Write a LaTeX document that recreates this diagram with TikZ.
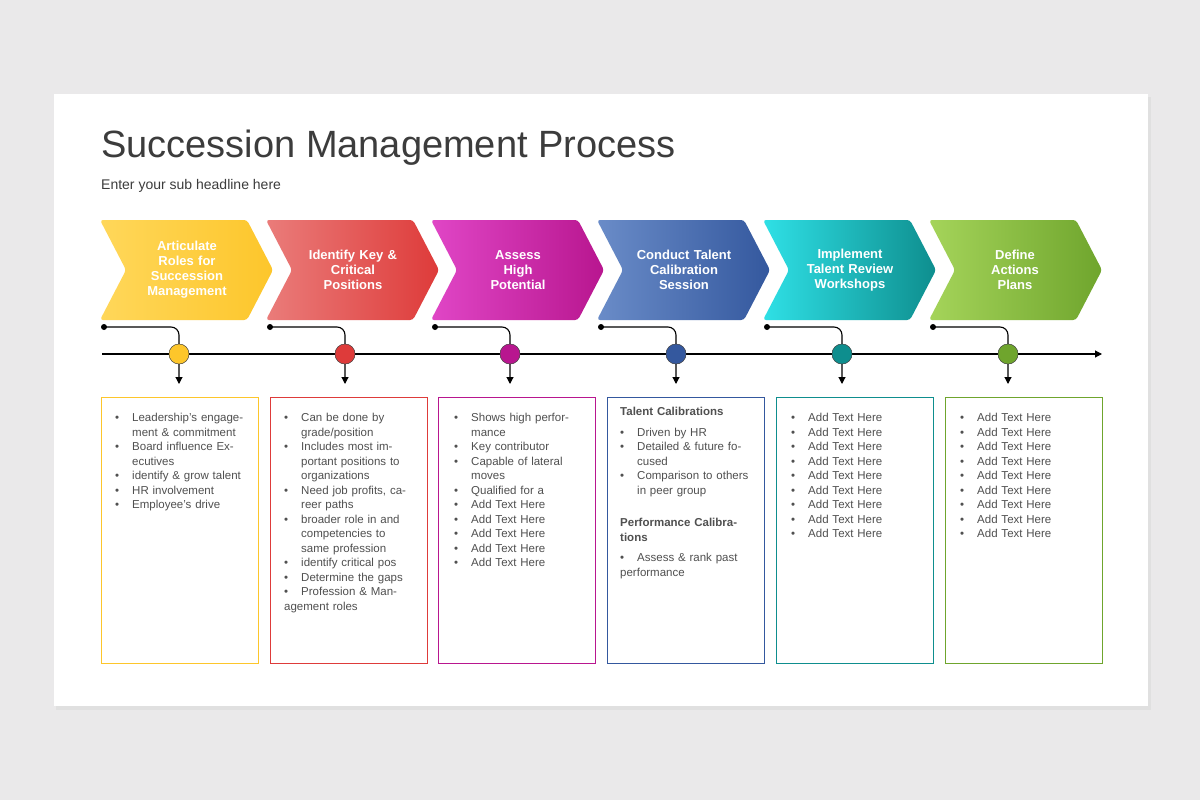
\documentclass[tikz,border=0pt]{standalone}
\usepackage{fontspec}
\setmainfont{Liberation Sans}
\usetikzlibrary{arrows.meta}
\definecolor{bgGray}{HTML}{EAE9EA}
\definecolor{titleGray}{HTML}{3C3C3C}
\definecolor{txtGray}{HTML}{505050}
\definecolor{cA}{HTML}{FDC62B}\definecolor{cAl}{HTML}{FFD75A}
\definecolor{cB}{HTML}{DE3B3A}\definecolor{cBl}{HTML}{EA7C7A}
\definecolor{cC}{HTML}{B8168F}\definecolor{cCl}{HTML}{E046C6}
\definecolor{cD}{HTML}{34589E}\definecolor{cDl}{HTML}{6A8CC8}
\definecolor{cE}{HTML}{0E8E8E}\definecolor{cEl}{HTML}{2FE0E6}
\definecolor{cF}{HTML}{6FA52D}\definecolor{cFl}{HTML}{A5D45A}
\newcommand{\itm}[1]{\par\noindent\hangindent=17pt\hangafter=1\makebox[17pt][l]{\textbullet}#1}
\begin{document}
\begin{tikzpicture}[x=1pt,y=-1pt]
% Define the styles
\tikzstyle{chevtext} = [text=white, font=\bfseries\fontsize{13}{15}\selectfont, align=center, text width=110pt]
\tikzstyle{dot} = [circle, draw=black!70, minimum size=20pt, inner sep=0pt]
\tikzstyle{link} = [line width=1.1pt, rounded corners=8pt, -{Triangle[length=7pt,width=7pt]}]
\tikzstyle{boxtext} = [anchor=north west, text width=130pt, text=txtGray, align=left, inner sep=0pt, font=\fontsize{11.5}{14.5}\selectfont]

% Background and card
\useasboundingbox (0,0) rectangle (1200,800);
\fill[bgGray] (0,0) rectangle (1200,800);
\fill[black!12] (56,97) rectangle (1151,710);
\fill[white] (54,94) rectangle (1148,706);

% Title
\node[anchor=base west, text=titleGray, inner sep=0pt, font=\fontsize{38}{40}\selectfont] (title) at (101,157) {Succession Management Process};
\node[anchor=base west, text=titleGray, inner sep=0pt, font=\fontsize{14}{16}\selectfont] (sub) at (101,189) {Enter your sub headline here};

% Chevrons
\foreach \i/\x/\c in {1/100/A, 2/266/B, 3/431/C, 4/597/D, 5/763/E, 6/929/F}{
  \shade[left color=c\c l, right color=c\c, rounded corners=3pt]
    (\x,220) -- (\x+147,220) -- (\x+173,270) -- (\x+147,320) -- (\x,320) -- (\x+26,270) -- cycle;
  \coordinate (s\i) at (\x+4,327);
  \node[dot, fill=c\c] (c\i) at (\x+79,354) {};
  \coordinate (a\i) at (\x+79,384);
  \draw[rounded corners=0pt, draw=c\c, line width=0.9pt, fill=white, fill opacity=0]
    ({\x+1+(\i-1)*3},397) rectangle ++(157,266);
}
\node[chevtext] (t1) at (187,270) {Articulate\\Roles for\\Succession\\Management};
\node[chevtext] (t2) at (353,270) {Identify Key \&\\Critical\\Positions};
\node[chevtext] (t3) at (518,270) {Assess\\High\\Potential};
\node[chevtext] (t4) at (684,270) {Conduct Talent\\Calibration\\Session};
\node[chevtext] (t5) at (850,270) {Implement\\Talent Review\\Workshops};
\node[chevtext] (t6) at (1015,270) {Define\\Actions\\Plans};

% Timeline
\coordinate (tl0) at (102,354);
\coordinate (tl1) at (1102,354);
\draw[line width=1.1pt, -{Triangle[length=7pt,width=7pt]}] (tl0) -- (tl1);
\foreach \i in {1,...,6}{
  \fill (s\i) circle (3pt);
  \draw[link] (s\i) -| (a\i);
}
\foreach \i/\c in {1/A,2/B,3/C,4/D,5/E,6/F}{
  \node[dot, fill=c\c] at (c\i) {};
}

% Box texts
\node[boxtext] (b1) at (115,407) {\itm{Leadership's engagement \& commitment}\itm{Board influence Executives}\itm{identify \& grow talent}\itm{HR involvement}\itm{Employee's drive}};
\node[boxtext] (b2) at (284,407) {\itm{Can be done by grade/position}\itm{Includes most important positions to organizations}\itm{Need job profits, career paths}\itm{broader role in and competencies to same profession}\itm{identify critical pos}\itm{Determine the gaps}\itm{Profession \& Management roles}};
\node[boxtext] (b3) at (454,407) {\itm{Shows high performance}\itm{Key contributor}\itm{Capable of lateral moves}\itm{Qualified for a}\itm{Add Text Here}\itm{Add Text Here}\itm{Add Text Here}\itm{Add Text Here}\itm{Add Text Here}};
\node[boxtext] (b4) at (620,407) {\noindent\textbf{Talent Calibrations}\par\vspace{6pt}\itm{Driven by HR}\itm{Detailed \& future focused}\itm{Comparison to others in peer group}\par\vspace{18pt}\noindent\textbf{Performance Calibrations}\par\vspace{6pt}\itm{Assess \& rank past performance}};
\node[boxtext] (b5) at (791,407) {\itm{Add Text Here}\itm{Add Text Here}\itm{Add Text Here}\itm{Add Text Here}\itm{Add Text Here}\itm{Add Text Here}\itm{Add Text Here}\itm{Add Text Here}\itm{Add Text Here}};
\node[boxtext] (b6) at (960,407) {\itm{Add Text Here}\itm{Add Text Here}\itm{Add Text Here}\itm{Add Text Here}\itm{Add Text Here}\itm{Add Text Here}\itm{Add Text Here}\itm{Add Text Here}\itm{Add Text Here}};
\end{tikzpicture}
\end{document}
